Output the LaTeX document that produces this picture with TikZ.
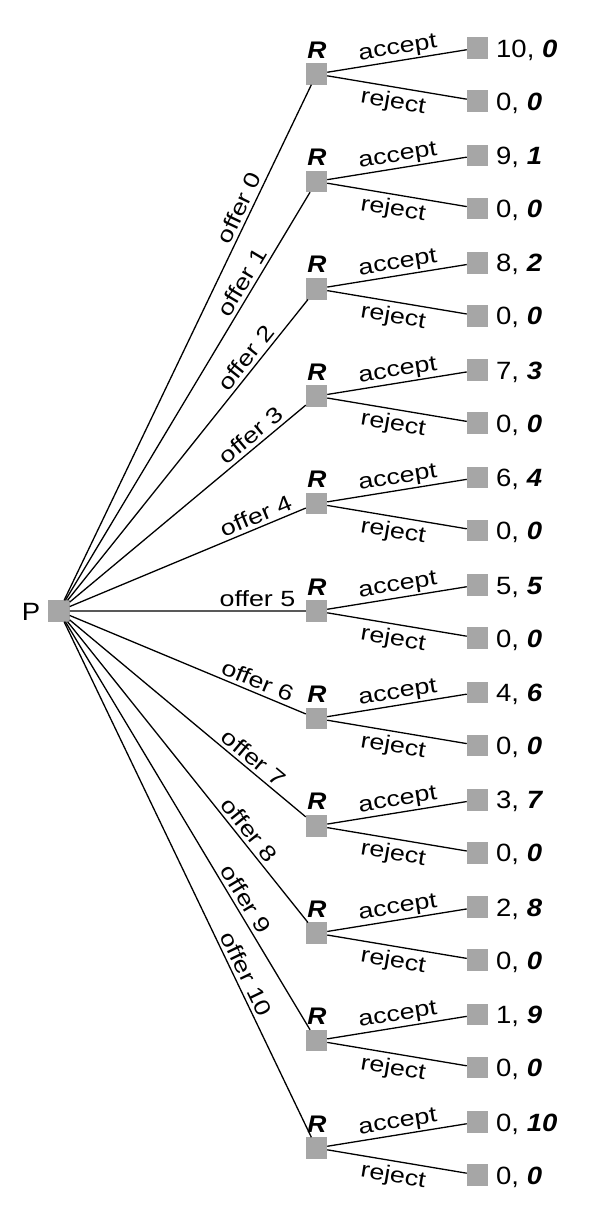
\documentclass[tikz,border=0pt]{standalone}
\usepackage{fontspec}
\setmainfont{Liberation Sans}
\usepackage{graphicx}
\definecolor{sqgray}{HTML}{A6A6A6}
\newcommand\edgefont{\fontsize{22}{26}\selectfont}
\newcommand\leaffont{\fontsize{25}{30}\selectfont}
\newcommand\rfont{\fontsize{24}{28}\selectfont\bfseries\itshape}
\newcommand\wide[1]{\scalebox{1.22}[1]{#1}}
\begin{document}
\begin{tikzpicture}[x=1pt,y=-1pt,
  sq/.style={fill=sqgray,draw=none,minimum size=21.5pt,inner sep=0pt,outer sep=0pt},
  edge/.style={line width=1.3pt,black},
  elab/.style={font=\edgefont,inner xsep=0pt,sloped},
  olab/.style={font=\edgefont,inner xsep=0pt,inner ysep=4pt,anchor=south west},
  leaflab/.style={font=\leaffont,inner sep=0pt,anchor=base west},
  rlab/.style={font=\rfont,inner sep=0pt,anchor=base}]
\useasboundingbox (0,0) rectangle (590,1221);
\node[sq] (P) at (59,611) {};
\node[font=\leaffont,inner sep=0pt,anchor=base east] (Plab) at (40.5,620) {\scalebox{1.1}[1]{P}};
\foreach \k in {0,...,10}{
  \pgfmathsetmacro\ry{74+107.4*\k}
  \pgfmathtruncatemacro\v{10-\k}
  \node[sq] (R\k) at (316.5,\ry) {};
  \node[sq] (A\k) at (477.5,\ry-26) {};
  \node[sq] (J\k) at (477.5,\ry+27) {};
  \draw[edge] (P) -- (R\k);
  \draw[edge] (R\k) -- node[elab,pos=0.52,anchor=south,inner ysep=1.5pt] (ACL\k) {\wide{accept}} (A\k);
  \draw[edge] (R\k) -- node[elab,pos=0.49,anchor=north,inner ysep=4.5pt] (RJL\k) {\wide{reject}} (J\k);
  % offer label: leftmost ink near x = 219.5
  \pgfmathsetmacro\th{atan2(611-\ry,257.5)}
  \pgfmathsetmacro\cx{219.5+max(0,11.5*sin(\th))}
  \pgfmathsetmacro\xl{\cx+4*sin(\th)}
  \pgfmathsetmacro\yl{611+(\xl-59)/257.5*(\ry-611)}
  \node[olab,rotate=\th] (OL\k) at (\xl,\yl) {\wide{offer \k}};
  \node[rlab] (RL\k) at (317,\ry-16) {\scalebox{1.1}[1]{R}};
  \node[leaflab] (AL\k) at (496,\ry-17) {\scalebox{1.1}[1]{\v, \textbf{\textit{\k}}}};
  \node[leaflab] (JL\k) at (496,\ry+36) {\scalebox{1.1}[1]{0, \textbf{\textit{0}}}};
}
\end{tikzpicture}
\end{document}
